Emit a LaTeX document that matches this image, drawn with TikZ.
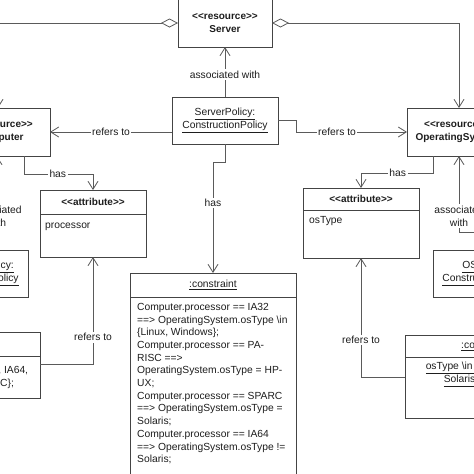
\documentclass[tikz,border=0pt]{standalone}
\usepackage{fontspec}
\setmainfont{Liberation Sans}
\usetikzlibrary{arrows.meta,calc}
\definecolor{linec}{HTML}{5A5A5A}
\definecolor{boxc}{HTML}{444444}
\definecolor{txtc}{HTML}{1E1E1E}
\begin{document}
\begin{tikzpicture}[x=1pt,y=-1pt,
  every node/.style={font=\fontsize{10.3}{12.7}\selectfont, text=txtc},
  box/.style={draw=boxc, line width=0.8pt, inner sep=0pt, outer sep=0pt, fill=white},
  conn/.style={draw=linec, line width=0.8pt},
  arr/.style={conn, -{Straight Barb[length=8pt,width=10pt]}},
  agg/.style={conn, {Diamond[open,length=17pt,width=9pt]}-{Straight Barb[length=8pt,width=10pt]}},
  lbl/.style={fill=white, inner sep=1.5pt},
  ster/.style={font=\bfseries\fontsize{10}{13}\selectfont, align=center},
  pol/.style={box, minimum width=104pt, minimum height=47pt, align=center}]
\useasboundingbox (0,0) rectangle (474,474);
\fill[white] (0,0) rectangle (474,474);
\clip (0,0) rectangle (474,474);

% resource boxes
\node[box, minimum width=94pt, minimum height=48pt, ster] (server) at (225,23) {<{}<resource>{}>\\Server};
\node[box, minimum width=100pt, minimum height=48pt, ster] (computer) at (0,132) {<{}<resource>{}>\\Computer};
\node[box, minimum width=100pt, minimum height=48pt, ster] (os) at (457,132) {<{}<resource>{}>\\OperatingSystem};

% policies
\node[pol, minimum width=106pt] (spol) at (225,120.5) {\underline{ServerPolicy:}\\\underline{ConstructionPolicy}};
\node[pol] (cpol) at (-24,273.5) {\underline{ComputerPolicy:}\\\underline{ConstructionPolicy}};
\node[pol] (opol) at (485,273.5) {\underline{OSPolicy:}\\\underline{ConstructionPolicy}};

% attributes
\node[box, minimum width=106pt, minimum height=24pt, ster] (pattr) at (93,202) {<{}<attribute>{}>};
\node[box, minimum width=106pt, minimum height=43pt] (pattrb) at (93,235.5) {};
\node[anchor=west, inner sep=0pt] (ptxt) at (45,227) {processor};
\node[box, minimum width=116pt, minimum height=22pt, ster] (oattr) at (361,199) {<{}<attribute>{}>};
\node[box, minimum width=116pt, minimum height=48pt] (oattrb) at (361,234) {};
\node[anchor=west, inner sep=0pt] (otxt) at (309,221) {osType};

% constraints
\node[box, minimum width=166pt, minimum height=24pt] (cons) at (213,285) {\underline{:constraint}};
\node[box, minimum width=166pt, minimum height=193pt] (consb) at (213,393.5) {};
\node[anchor=north west, inner sep=0pt, align=left] (ctxt) at (137,303) {Computer.processor == IA32\\
==> OperatingSystem.osType \textbackslash in\\
\{Linux, Windows\};\\
Computer.processor == PA-\\
RISC ==>\\
OperatingSystem.osType = HP-\\
UX;\\
Computer.processor == SPARC\\
==> OperatingSystem.osType =\\
Solaris;\\
Computer.processor == IA64\\
==> OperatingSystem.osType !=\\
Solaris;};

\node[box, minimum width=140pt, minimum height=24pt] (lcons) at (-30,344) {\underline{:constraint}};
\node[box, minimum width=140pt, minimum height=42pt] (lconsb) at (-30,377) {};
\node[align=center, inner sep=0pt] (ltxt) at (-30,377) {processor \textbackslash in \{IA32, IA64,\\PA-RISC, SPARC\};};

\node[box, minimum width=160pt, minimum height=22pt] (rcons) at (485,346) {\underline{:constraint}};
\node[box, minimum width=160pt, minimum height=61pt] (rconsb) at (485,387.5) {};
\node[align=center, inner sep=0pt] (rtxt) at (485,374.5) {\underline{osType \textbackslash in \{HP-UX, Linux,}\\\underline{Solaris, Windows\}}};

% aggregations
\coordinate (laggc) at (-2,23);
\coordinate (raggc) at (459,23);
\draw[agg] (server.west) -- (laggc) -- (laggc |- computer.north);
\draw[agg] (server.east) -- (raggc) -- (raggc |- os.north);

% associations
\draw[arr] (spol.north) -- (server.south) node[lbl, pos=0.45] {associated with};
\draw[arr] (cpol.north) -- ++(0,-18) -| ([xshift=-3pt]computer.south) node[lbl, align=center, pos=0.605] {associated\\with};
\draw[arr] (opol.north) -- ++(0,-18) -| ([xshift=2pt]os.south) node[lbl, align=center, pos=0.605] {associated\\with};

% refers to
\draw[arr] (spol.west |- computer.east) -- (computer.east) node[lbl, midway] {refers to};
\draw[arr] (spol.east) -- ++(18,0) |- (os.west) node[lbl, pos=0.685] {refers to};
\draw[arr] ([yshift=-8pt]lconsb.north east) -| (pattrb.south) node[lbl, pos=0.625] {refers to};
\draw[arr] ([yshift=-20pt]rconsb.north west) -| (oattrb.south) node[lbl, pos=0.655] {refers to};

% has
\draw[arr] (spol.south) -- ++(0,18) -| (cons.north) node[lbl, pos=0.685] {has};
\draw[arr] ([xshift=24pt]computer.south) -- ++(0,18) -| (pattr.north) node[lbl, pos=0.245] {has};
\draw[arr] ([xshift=-24pt]os.south) -- ++(0,17) -| (oattr.north) node[lbl, pos=0.245] {has};
\end{tikzpicture}
\end{document}
